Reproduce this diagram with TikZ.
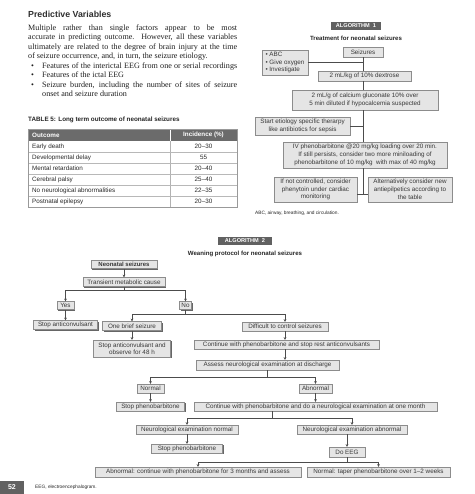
\documentclass[tikz,border=0pt]{standalone}
\usepackage{fontspec}
\setmainfont{Liberation Serif}
\setsansfont{Liberation Sans}
\usetikzlibrary{shadows,arrows.meta,calc}
\newcommand{\myfs}[2]{\fontsize{#1}{#2}\selectfont}
\begin{document}
\begin{tikzpicture}[x=1pt,y=-1pt,
  box/.style={draw=black!45, line width=0.4pt, fill=black!10, text=black!78, align=center, inner sep=0.8pt,
     drop shadow={shadow xshift=1.3pt,shadow yshift=-1.3pt,fill=black!60,opacity=1}},
  aone/.style={box, font=\sffamily\myfs{6.3}{7.8}},
  atwo/.style={box, font=\sffamily\myfs{6.3}{7.4}, minimum height=9pt},
  conn/.style={draw=black!70, line width=0.7pt},
  arr/.style={conn, -{Stealth[length=2.6pt,width=2.6pt]}},
  lab/.style={fill=black!62, text=white, font=\sffamily\bfseries\myfs{5.6}{6}, inner sep=0.6pt, minimum height=7.5pt},
  ttl/.style={font=\sffamily\bfseries\myfs{6.1}{7}, text=black!85, inner sep=0pt},
  body/.style={font=\myfs{8.1}{9.5}, text=black!88, inner sep=0pt, anchor=base west},
  tab/.style={font=\sffamily\myfs{6.3}{7}, text=black!85, inner sep=0pt},
  note/.style={font=\sffamily\myfs{4.8}{5.5}, text=black!85, inner sep=0pt, anchor=west}
]
\useasboundingbox (0,0) rectangle (474,494);

% ---------------- left column text ----------------
\node[font=\sffamily\bfseries\myfs{8.8}{10}, text=black!82, inner sep=0pt, anchor=base west] (head) at (28,17.5) {Predictive Variables};
\node[body] (p1) at (28,30.5) {\makebox[209pt][s]{Multiple rather than single factors appear to be most}};
\node[body] (p2) at (28,40) {\makebox[209pt][s]{accurate in predicting outcome. However, all these variables}};
\node[body] (p3) at (28,49.5) {\makebox[209pt][s]{ultimately are related to the degree of brain injury at the time}};
\node[body] (p4) at (28,59) {of seizure occurrence, and, in turn, the seizure etiology.};
\node[body] (b1) at (31,68.5) {•};
\node[body] (t1) at (42,68.5) {\makebox[195pt][s]{Features of the interictal EEG from one or serial recordings}};
\node[body] (b2) at (31,78) {•};
\node[body] (t2) at (42,78) {Features of the ictal EEG};
\node[body] (b3) at (31,87.5) {•};
\node[body] (t3) at (42,87.5) {\makebox[195pt][s]{Seizure burden, including the number of sites of seizure}};
\node[body] (t4) at (42,97) {onset and seizure duration};

% ---------------- table ----------------
\node[font=\sffamily\bfseries\myfs{6.3}{7}, text=black!85, inner sep=0pt, anchor=west] (tcap) at (28,120) {TABLE 5: Long term outcome of neonatal seizures};
\fill[black!58] (28,129) rectangle (237,141);
\draw[white, line width=0.5pt] (170,129) -- (170,141);
\draw[black!30, line width=0.4pt] (170,141) -- (170,207);
\foreach \yy in {152,163,174,185,196} \draw[black!28, line width=0.4pt] (28,\yy) -- (237,\yy);
\draw[black!40, line width=0.5pt] (28,129) rectangle (237,207);
\node[tab, text=white, font=\sffamily\bfseries\myfs{6.3}{7}, anchor=west] (hc1) at (32,135) {Outcome};
\node[tab, text=white, font=\sffamily\bfseries\myfs{6.3}{7}] (hc2) at (203.5,135) {Incidence (\%)};
\foreach \t/\v/\yy [count=\i] in {Early death/20--30/146.5, Developmental delay/55/157.5, Mental retardation/20--40/168.5, Cerebral palsy/25--40/179.5, No neurological abnormalities/22--35/190.5, Postnatal epilepsy/20--30/201.5}{
  \node[tab, anchor=west] (rl\i) at (32,\yy) {\t};
  \node[tab] (rv\i) at (203.5,\yy) {\v};
}

% ---------------- algorithm 1 ----------------
\node[lab, minimum width=50pt] (alg1) at (356,26) {ALGORITHM\ \ 1};
\node[ttl] (tit1) at (356,38) {Treatment for neonatal seizures};
\node[aone, minimum width=40pt, minimum height=10pt] (seiz) at (363,52) {Seizures};
\node[aone, minimum width=46pt, minimum height=25pt, align=left] (abc) at (285,62.5) {• ABC\\• Give oxygen\\• Investigate};
\node[aone, minimum width=93pt, minimum height=10pt] (dex) at (364.5,76) {2 mL/kg of 10\% dextrose};
\node[aone, minimum width=146pt, minimum height=20pt] (cal) at (365,100) {2 mL/g of calcium gluconate 10\% over\\5 min diluted if hypocalcemia suspected};
\node[aone, minimum width=95pt, minimum height=18pt] (eti) at (302.5,126) {Start etiology specific therarpy\\like antibiotics for sepsis};
\node[aone, minimum width=164pt, minimum height=26pt] (iv) at (365,155) {IV phenobarbitone @20 mg/kg loading over 20 min.\\If still persists, consider two more miniloading of\\phenobarbitone of 10 mg/kg\ \ with max of 40 mg/kg};
\node[aone, minimum width=83pt, minimum height=25pt] (nc) at (315.5,189.5) {If not controlled, consider\\phenytoin under cardiac\\monitoring};
\node[aone, minimum width=84pt, minimum height=25pt] (alt) at (410,189.5) {Alternatively consider new\\antiepilpetics according to\\the table};
\coordinate (j1) at (363,194);
\draw[conn] (seiz.south) -- (seiz.south |- dex.north);
\draw[conn] (abc.east) -- (abc.east -| seiz.south);
\draw[conn] (dex.south -| seiz.south) -- (cal.north -| seiz.south);
\draw[conn] (cal.south -| seiz.south) -- (iv.north -| seiz.south);
\draw[conn] (eti.east) -- (eti.east -| seiz.south);
\draw[conn] (iv.south -| seiz.south) -- (j1);
\draw[conn] (nc.east |- j1) -- (alt.west |- j1);
\node[note] (abcnote) at (255,213) {ABC, airway, breathing, and circulation.};

% ---------------- algorithm 2 ----------------
\node[lab, minimum width=54pt] (alg2) at (245,241) {ALGORITHM\ \ 2};
\node[ttl] (tit2) at (245,254) {Weaning protocol for neonatal seizures};
\node[atwo, minimum width=66pt, minimum height=8pt, font=\sffamily\bfseries\myfs{6.0}{7.3}] (ns) at (124,264.5) {Neonatal seizures};
\node[atwo, minimum width=82pt] (tmc) at (124,282) {Transient metabolic cause};
\node[atwo, minimum width=17pt, minimum height=8pt] (yes) at (65.5,305.5) {Yes};
\node[atwo, minimum width=12pt, minimum height=8pt] (no) at (185.5,305.5) {No};
\node[atwo, minimum width=64pt] (sac) at (65.5,325) {Stop anticonvulsant};
\node[atwo, minimum width=59pt] (obs) at (132,326) {One brief seizure};
\node[atwo, minimum width=77pt, minimum height=17pt] (sao) at (132,348.5) {Stop anticonvulsant and\\observe for 48 h};
\node[atwo, minimum width=86pt] (dcs) at (285,326.5) {Difficult to control seizures};
\node[atwo, minimum width=185pt] (cwp) at (286.5,344.5) {Continue with phenobarbitone and stop rest anticonvulsants};
\node[atwo, minimum width=143pt, minimum height=10pt] (ane) at (267.5,365) {Assess neurological examination at discharge};
\node[atwo, minimum width=27pt] (nor) at (150.5,388.5) {Normal};
\node[atwo, minimum width=33pt] (abn) at (315.5,388.5) {Abnormal};
\node[atwo, minimum width=68pt] (sp1) at (150.5,406.5) {Stop phenobarbitone};
\node[atwo, minimum width=243pt] (cwd) at (315.5,406.5) {Continue with phenobarbitone and do a neurological examination at one month};
\node[atwo, minimum width=102pt] (nen) at (187,429.5) {Neurological examination normal};
\node[atwo, minimum width=110pt] (nea) at (352,429.5) {Neurological examination abnormal};
\node[atwo, minimum width=71pt] (sp2) at (187,448.5) {Stop phenobarbitone};
\node[atwo, minimum width=36pt, minimum height=10pt] (eeg) at (347,452) {Do EEG};
\node[atwo, minimum width=206pt, minimum height=10pt] (anc) at (198,472) {Abnormal: continue with phenobarbitone for 3 months and assess};
\node[atwo, minimum width=143pt, minimum height=10pt] (ntp) at (378.5,472) {Normal: taper phenobarbitone over 1--2 weeks};

\draw[arr] (ns) -- (tmc);
\draw[conn] (tmc.south) -- ++(0,4) coordinate (j2);
\draw[arr] (j2) -| (yes);
\draw[arr] (j2) -| (no);
\draw[arr] (yes) -- (sac);
\draw[conn] (no.south) -- ++(0,4.5) coordinate (j3);
\draw[arr] (j3) -| (obs);
\draw[arr] (j3) -| (dcs);
\draw[arr] (obs) -- (sao);
\draw[arr] (dcs.south) -- (dcs.south |- cwp.north);
\draw[arr] (cwp.south -| dcs.south) -- (ane.north -| dcs.south);
\draw[conn] (ane.south) -- ++(0,7) coordinate (j4);
\draw[arr] (j4) -| (nor);
\draw[arr] (j4) -| (abn);
\draw[arr] (nor) -- (sp1);
\draw[arr] (abn) -- (cwd);
\draw[conn] ([xshift=-43.5pt]cwd.south) -- ++(0,7) coordinate (j5);
\draw[arr] (j5) -| (nen);
\draw[arr] (j5) -| (nea);
\draw[arr] (nen) -- (sp2);
\draw[arr] (nea.south -| eeg.north) -- (eeg.north);
\draw[conn] (eeg.south) -- ++(0,5) coordinate (j6);
\draw[arr] (j6) -| (anc);
\draw[arr] (j6) -| (ntp);

% ---------------- footer ----------------
\fill[black!62] (0,481) rectangle (24,494);
\node[font=\sffamily\bfseries\myfs{7}{8}, text=white, inner sep=0pt] (pg) at (12,487.5) {52};
\node[note] (eegnote) at (35,487) {EEG, electroencephalogram.};
\end{tikzpicture}
\end{document}
